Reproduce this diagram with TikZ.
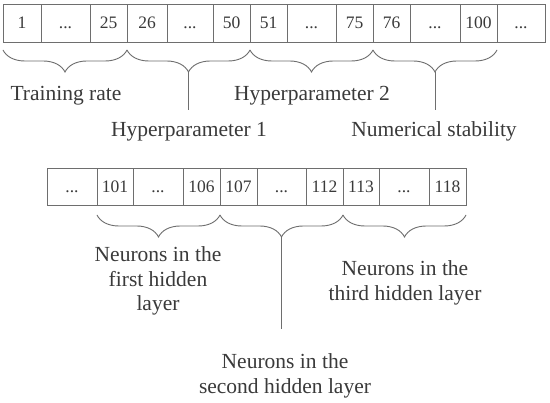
\documentclass[tikz,border=0pt]{standalone}
\usepackage{fontspec}
\setmainfont{Liberation Serif}
\usetikzlibrary{decorations.pathreplacing,calc}
\definecolor{ln}{HTML}{6E6E6E}
\definecolor{tx}{HTML}{3A3A3A}
\newcommand\mydots{.{}.{}.}
\tikzset{
  cell/.style={draw=ln, line width=0.9pt, inner sep=0pt, outer sep=0pt, text=tx, text height=12pt, text depth=0pt, font=\fontsize{17.5}{20}\selectfont},
  brc/.style={draw=ln, line width=0.9pt, decorate, decoration={brace, mirror, amplitude=22pt}},
  stem/.style={draw=ln, line width=0.9pt},
  lbl/.style={text=tx, font=\fontsize{21.5}{24.5}\selectfont, align=center, inner sep=0pt}
}
\begin{document}
\begin{tikzpicture}[x=1pt,y=-1pt]
\useasboundingbox (0,0) rectangle (550,403);
\fill[white] (0,0) rectangle (550,403);
% row 1
\foreach \a/\b/\t/\n in {3/41/1/a1,41/90/\mydots/a2,90/127/25/a3,127/167/26/a4,167/213/\mydots/a5,213/250/50/a6,250/287/51/a7,287/336/\mydots/a8,336/373/75/a9,373/410/76/a10,410/460/\mydots/a11,460/497/100/a12,497/545/\mydots/a13}
  \node[cell, minimum width={(\b-\a)*1pt}, minimum height=38pt] (\n) at ({(\a+\b)/2},23) {\t};
% row 2
\foreach \a/\b/\t/\n in {47/97/\mydots/b1,97/133/101/b2,133/183/\mydots/b3,183/220/106/b4,220/257/107/b5,257/306/\mydots/b6,306/343/112/b7,343/379/113/b8,379/429/\mydots/b9,429/466/118/b10}
  \node[cell, minimum width={(\b-\a)*1pt}, minimum height=37pt] (\n) at ({(\a+\b)/2},186.5) {\t};
% braces row 1
\draw[brc] ([yshift=-8pt]a1.south west) -- ([yshift=-8pt]a3.south east);
\draw[brc] ([yshift=-8pt]a4.south west) -- ([yshift=-8pt]a6.south east);
\draw[brc] ([yshift=-8pt]a7.south west) -- ([yshift=-8pt]a9.south east);
\draw[brc] ([yshift=-8pt]a10.south west) -- ([yshift=-8pt]a12.south east);
\coordinate (t2) at ($(a4.south west)!0.5!(a6.south east)+(0,30)$);
\coordinate (t4) at ($(a10.south west)!0.5!(a12.south east)+(0,30)$);
\coordinate (e2) at ($(t2)+(0,38)$);
\coordinate (e4) at ($(t4)+(0,38)$);
\draw[stem] (t2) -- (e2);
\draw[stem] (t4) -- (e4);
% labels row 1
\node[lbl] (l1) at (66,96) {Training rate};
\node[lbl] (l3) at (312,96) {Hyperparameter 2};
\node[lbl] (l2) at (189,132) {Hyperparameter 1};
\node[lbl] (l4) at (434,131) {Numerical stability};
% braces row 2
\draw[brc] ([yshift=-10pt]b2.south west) -- ([yshift=-10pt]b4.south east);
\draw[brc] ([yshift=-10pt]b5.south west) -- ([yshift=-10pt]b7.south east);
\draw[brc] ([yshift=-10pt]b8.south west) -- ([yshift=-10pt]b10.south east);
\coordinate (s2) at ($(b5.south west)!0.5!(b7.south east)+(0,32)$);
\coordinate (f2) at ($(s2)+(0,92)$);
\draw[stem] (s2) -- (f2);
\node[lbl] (m1) at (158,281) {Neurons in the\\first hidden\\layer};
\node[lbl] (m3) at (405,283) {Neurons in the\\third hidden layer};
\node[lbl] (m2) at (285,376) {Neurons in the\\second hidden layer};
\end{tikzpicture}
\end{document}
